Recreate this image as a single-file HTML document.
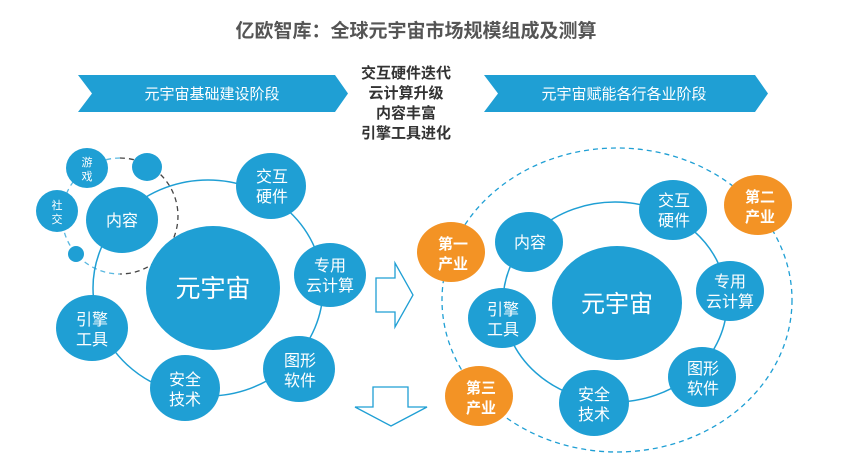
<!DOCTYPE html>
<html><head><meta charset="utf-8"><style>
html,body{margin:0;padding:0;background:#fff;}
svg{display:block;font-family:"Liberation Sans","Noto Sans CJK SC",sans-serif;}
</style></head><body>
<svg width="852" height="460" viewBox="0 0 852 460" xmlns="http://www.w3.org/2000/svg">
<text x="416" y="37" text-anchor="middle" font-size="19" font-weight="bold" fill="#555">亿欧智库：全球元宇宙市场规模组成及测算</text>
<polygon points="78,75 335,75 348,93.5 335,112 78,112 92,93.5" fill="#1f9fd4"/>
<text x="212" y="99" text-anchor="middle" font-size="15" fill="#fff">元宇宙基础建设阶段</text>
<polygon points="484,75 755,75 768,93.5 755,112 484,112 498,93.5" fill="#1f9fd4"/>
<text x="624" y="99" text-anchor="middle" font-size="15" fill="#fff">元宇宙赋能各行各业阶段</text>
<g font-size="15" font-weight="bold" fill="#333" text-anchor="middle">
<text x="406" y="78">交互硬件迭代</text>
<text x="406" y="98">云计算升级</text>
<text x="406" y="118">内容丰富</text>
<text x="406" y="138">引擎工具进化</text>
</g>
<!-- left -->
<path d="M120,158 A58,58 0 0 0 120,274" fill="none" stroke="#5ab8e0" stroke-width="1.3" stroke-dasharray="5,4"/>
<path d="M120,158 A58,58 0 0 1 120,274" fill="none" stroke="#444" stroke-width="1.3" stroke-dasharray="5,4"/>
<ellipse cx="208" cy="288" rx="115" ry="108" fill="none" stroke="#1f9fd4" stroke-width="1.5"/>
<g fill="#1f9fd4">
<ellipse cx="213" cy="288" rx="67" ry="62"/>
<ellipse cx="271" cy="186" rx="35" ry="33"/>
<ellipse cx="330" cy="275" rx="36" ry="32"/>
<ellipse cx="299" cy="369" rx="36" ry="33"/>
<ellipse cx="185" cy="388" rx="35" ry="33"/>
<ellipse cx="92" cy="328" rx="36" ry="33"/>
<ellipse cx="122" cy="220" rx="36" ry="33"/>
<ellipse cx="87" cy="168" rx="21" ry="20"/>
<ellipse cx="147" cy="167" rx="15" ry="14"/>
<ellipse cx="57" cy="211" rx="21" ry="21"/>
<ellipse cx="76" cy="254" rx="8" ry="8"/>
</g>
<g fill="#fff" text-anchor="middle">
<text x="213" y="297" font-size="25">元宇宙</text>
<text x="272" y="182" font-size="16">交互</text><text x="272" y="202" font-size="16">硬件</text>
<text x="330" y="271" font-size="16">专用</text><text x="330" y="291" font-size="16">云计算</text>
<text x="300" y="366" font-size="16">图形</text><text x="300" y="386" font-size="16">软件</text>
<text x="185" y="385" font-size="16">安全</text><text x="185" y="405" font-size="16">技术</text>
<text x="92" y="325" font-size="16">引擎</text><text x="92" y="345" font-size="16">工具</text>
<text x="122" y="226" font-size="16">内容</text>
<text x="87" y="166" font-size="11">游</text><text x="87" y="180" font-size="11">戏</text>
<text x="57" y="209" font-size="11">社</text><text x="57" y="223" font-size="11">交</text>
</g>
<polygon points="376,278 395,278 395,263 413,295 395,327 395,312 376,312" fill="#fff" stroke="#1f9fd4" stroke-width="1.3"/>
<polygon points="373,387 408,387 408,407 427,407 391,426 355,407 373,407" fill="#fff" stroke="#1f9fd4" stroke-width="1.3"/>
<!-- right -->
<ellipse cx="617" cy="300" rx="175" ry="152" fill="none" stroke="#1f9fd4" stroke-width="1.3" stroke-dasharray="5,4"/>
<ellipse cx="615" cy="302" rx="112" ry="100" fill="none" stroke="#1f9fd4" stroke-width="1.5"/>
<g fill="#1f9fd4">
<ellipse cx="617" cy="303" rx="65" ry="57"/>
<ellipse cx="529" cy="242" rx="34" ry="30"/>
<ellipse cx="673" cy="210" rx="34" ry="30"/>
<ellipse cx="730" cy="291" rx="34" ry="30"/>
<ellipse cx="702" cy="377" rx="34" ry="30"/>
<ellipse cx="594" cy="403" rx="35" ry="33"/>
<ellipse cx="502" cy="318" rx="34" ry="30"/>
</g>
<g fill="#f39325">
<ellipse cx="451" cy="252" rx="34" ry="30"/>
<ellipse cx="758" cy="205" rx="34" ry="30"/>
<ellipse cx="479" cy="396" rx="34" ry="30"/>
</g>
<g fill="#fff" text-anchor="middle">
<text x="617" y="312" font-size="24">元宇宙</text>
<text x="530" y="248" font-size="16">内容</text>
<text x="674" y="206" font-size="16">交互</text><text x="674" y="226" font-size="16">硬件</text>
<text x="730" y="287" font-size="16">专用</text><text x="730" y="307" font-size="16">云计算</text>
<text x="703" y="374" font-size="16">图形</text><text x="703" y="394" font-size="16">软件</text>
<text x="594" y="400" font-size="16">安全</text><text x="594" y="420" font-size="16">技术</text>
<text x="503" y="315" font-size="16">引擎</text><text x="503" y="335" font-size="16">工具</text>
<g font-weight="bold" font-size="15">
<text x="453" y="249">第一</text><text x="453" y="269">产业</text>
<text x="760" y="202">第二</text><text x="760" y="222">产业</text>
<text x="481" y="393">第三</text><text x="481" y="413">产业</text>
</g>
</g>
</svg>
</body></html>
